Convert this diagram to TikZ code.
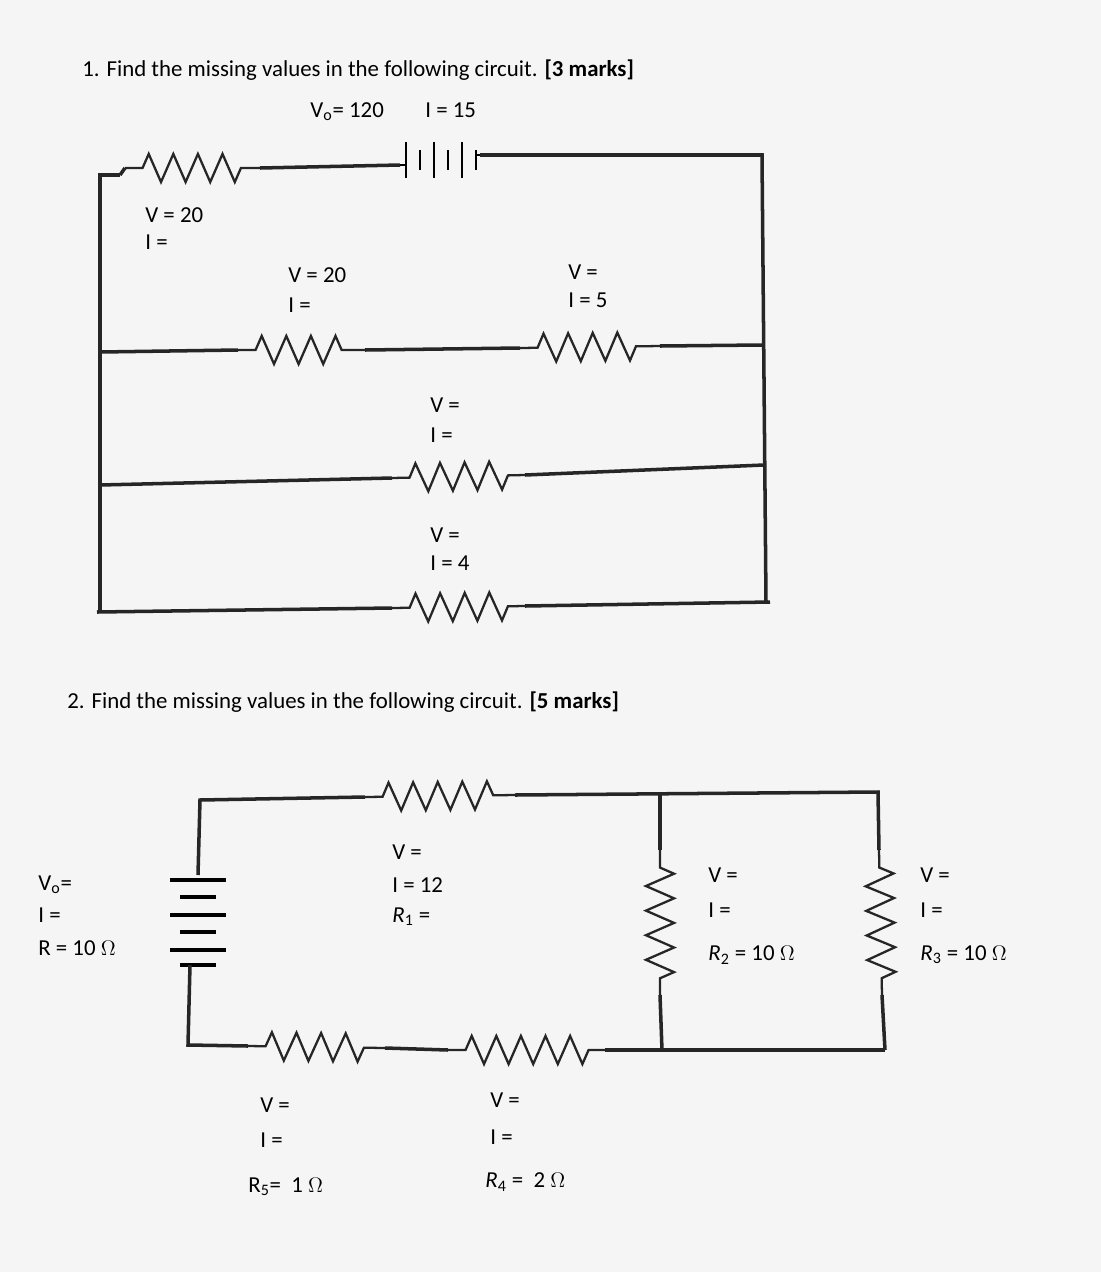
\documentclass[tikz,border=0pt]{standalone}
\usepackage{fontspec}
\setmainfont{Carlito}
\usetikzlibrary{decorations.pathmorphing}
\tikzset{
  wire/.style={line width=2pt,black!85},
  res/.style={line width=1.3pt,black!85,decorate,decoration={zigzag,segment length=14pt,amplitude=8pt,pre length=10pt,post length=8pt}},
  lbl/.style={anchor=west,font=\fontsize{13}{15}\selectfont,inner sep=0pt},
  title/.style={anchor=west,font=\fontsize{13}{15}\selectfont,inner sep=0pt}
}
\begin{document}
\begin{tikzpicture}[x=0.02cm,y=-0.02cm]
  \fill[gray!8] (0,0) rectangle (1101,1272);
  % --- circuit 1 ---
  \node[title] (t1) at (82,70) {1. Find the missing values in the following circuit. \textbf{[3 marks]}};
  \node[lbl] (vo1) at (310,112) {V\textsubscript{o}= 120};
  \node[lbl] (io1) at (425,110) {I = 15};
  \coordinate (a1) at (100,175);
  \coordinate (a2) at (120,175);
  \coordinate (r1a) at (125,168);
  \coordinate (r1b) at (260,168);
  \coordinate (b1a) at (400,165);
  \coordinate (b1b) at (480,155);
  \coordinate (c1) at (762,155);
  \coordinate (c2) at (766,602);
  \draw[wire] (a2) -- (r1a);
  \draw[res] (r1a) -- (r1b);
  \draw[wire] (r1b) -- (b1a);
  \draw[wire] (b1b) -- (c1) -- (c2);
  \draw[wire] (a2) -- (a1) -- (100,612);
  % battery 1
  \draw[line width=1.3pt] (400,165) -- (406,165);
  \foreach \x/\h in {406/18,420/10,434/18,448/10,462/18,476/10}
    \draw[line width=1.3pt] (\x,160-\h) -- (\x,160+\h);
  \draw[line width=1.3pt] (476,155) -- (480,155);
  \node[lbl] (v1) at (145,215) {V = 20};
  \node[lbl] (i1) at (145,242) {I =};
  % branch 1
  \draw[wire] (100,352) -- (238,350);
  \draw[res] (238,350) -- (365,350);
  \draw[wire] (365,350) -- (520,348);
  \draw[res] (520,348) -- (660,346);
  \draw[wire] (660,346) -- (762,345);
  \node[lbl] (v2) at (288,275) {V = 20};
  \node[lbl] (i2) at (288,305) {I =};
  \node[lbl] (v3) at (568,272) {V =};
  \node[lbl] (i3) at (568,300) {I = 5};
  % branch 2
  \draw[wire] (100,485) -- (392,478);
  \draw[res] (392,478) -- (525,475);
  \draw[wire] (525,475) -- (764,465);
  \node[lbl] (v4) at (430,405) {V =};
  \node[lbl] (i4) at (430,435) {I =};
  % branch 3
  \draw[wire] (97,612) -- (392,608);
  \draw[res] (392,608) -- (525,606);
  \draw[wire] (525,606) -- (770,602);
  \node[lbl] (v5) at (430,535) {V =};
  \node[lbl] (i5) at (430,563) {I = 4};
  % --- circuit 2 ---
  \node[title] (t2) at (67,702) {2. Find the missing values in the following circuit. \textbf{[5 marks]}};
  \draw[wire] (198,875) -- (200,800) -- (365,797);
  \draw[res] (365,797) -- (515,795);
  \draw[wire] (515,795) -- (878,792) -- (879,850);
  \draw[res] (879,850) -- (882,995);
  \draw[wire] (882,995) -- (885,1050);
  \draw[wire] (660,795) -- (660,850);
  \draw[res] (660,850) -- (660,995);
  \draw[wire] (660,995) -- (662,1050);
  % battery 2
  \foreach \y/\w in {880/28,897/18,915/28,932/18,950/28,965/18}
    \draw[line width=2pt] (198-\w,\y) -- (198+\w,\y);
  \draw[wire] (190,965) -- (188,1045) -- (248,1046);
  \draw[res] (248,1046) -- (385,1048);
  \draw[wire] (385,1048) -- (448,1050);
  \draw[res] (448,1050) -- (605,1050);
  \draw[wire] (605,1050) -- (885,1050);
  \node[lbl] (v6) at (38,885) {V\textsubscript{o}=};
  \node[lbl] (i6) at (38,915) {I =};
  \node[lbl] (r6) at (38,948) {R = 10 $\Omega$};
  \node[lbl] (v7) at (392,852) {V =};
  \node[lbl] (i7) at (392,885) {I = 12};
  \node[lbl] (r7) at (392,917) {\textit{R}\textsubscript{1} =};
  \node[lbl] (v8) at (708,875) {V =};
  \node[lbl] (i8) at (708,910) {I =};
  \node[lbl] (r8) at (708,955) {\textit{R}\textsubscript{2} = 10 $\Omega$};
  \node[lbl] (v9) at (920,875) {V =};
  \node[lbl] (i9) at (920,910) {I =};
  \node[lbl] (r9) at (920,955) {\textit{R}\textsubscript{3} = 10 $\Omega$};
  \node[lbl] (v10) at (260,1105) {V =};
  \node[lbl] (i10) at (260,1140) {I =};
  \node[lbl] (r10) at (248,1187) {R\textsubscript{5}= \ 1 $\Omega$};
  \node[lbl] (v11) at (490,1100) {V =};
  \node[lbl] (i11) at (490,1137) {I =};
  \node[lbl] (r11) at (485,1182) {\textit{R}\textsubscript{4} = \ 2 $\Omega$};
\end{tikzpicture}
\end{document}
